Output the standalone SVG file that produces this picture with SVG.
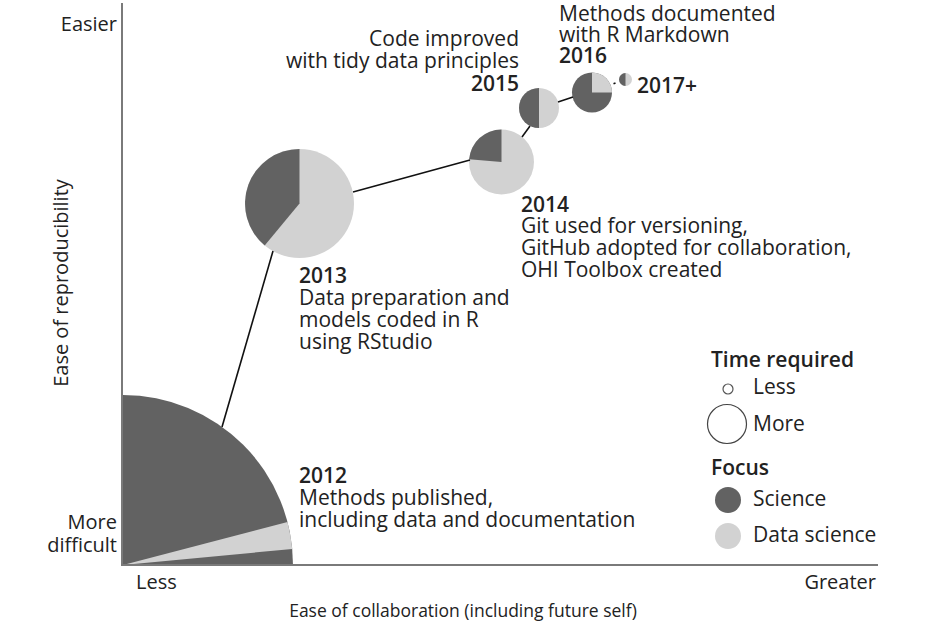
<svg xmlns="http://www.w3.org/2000/svg" width="926" height="627" viewBox="0 0 926 627">
<style>
text{font-family:"Open Sans","Liberation Sans",sans-serif;font-size:21px;fill:#222;}
.ax{font-size:20px;}
.xt{font-size:17.5px;}
.yr{font-weight:600;}
.r{text-anchor:end;}
.m{text-anchor:middle;}
.dk{fill:#626262;}
.lt{fill:#d2d2d2;}
.conn line{stroke:#111;stroke-width:1.6;}
.axis{stroke:#7a7a7a;stroke-width:2;fill:none;}
</style>
<rect width="926" height="627" fill="#fff"/>
<g id="pie2012">
<path class="dk" d="M123,565 L123,395 A170,170 0 0 1 293,565 Z"/>
<path class="lt" d="M123,565 L292.2,549 A170,170 0 0 0 287.5,522 Z"/>
</g>
<g id="pie2013">
<circle class="lt" cx="299.5" cy="203.5" r="54.5"/>
<path class="dk" d="M299.5,203.5 L299.5,149 A54.5,54.5 0 0 0 264.7,245.4 Z"/>
</g>
<g id="pie2014">
<circle class="lt" cx="501.5" cy="162" r="32.5"/>
<path class="dk" d="M501.5,162 L501.5,129.5 A32.5,32.5 0 0 0 469.1,159.2 Z"/>
</g>
<g id="pie2015">
<circle class="lt" cx="539" cy="108" r="20"/>
<path class="dk" d="M539,88 A20,20 0 0 0 539,128 Z"/>
</g>
<g id="pie2016">
<circle class="dk" cx="592" cy="92.5" r="20"/>
<path class="lt" d="M592,92.5 L592,72.5 A20,20 0 0 1 612,92.5 Z"/>
</g>
<g id="pie2017">
<circle class="lt" cx="625.5" cy="79.5" r="6.5"/>
<path class="dk" d="M625.5,73 A6.5,6.5 0 0 0 625.5,86 Z"/>
</g>
<g class="conn" id="connectors">
<line x1="222" y1="427" x2="273" y2="251"/>
<line x1="353" y1="192" x2="470" y2="160"/>
<line x1="522" y1="137" x2="530" y2="126"/>
<line x1="558" y1="102" x2="573" y2="97"/>
<line x1="613.5" y1="83.8" x2="615.5" y2="83"/>
</g>
<g id="axes">
<path class="axis" d="M122,3 L122,565 L878,565"/>
<text class="r ax" x="117" y="31">Easier</text>
<text class="r ax" x="117" y="529">More</text>
<text class="r ax" x="117" y="552">difficult</text>
<text class="ax" x="136" y="589">Less</text>
<text class="r ax" x="876" y="589">Greater</text>
<text class="m xt" x="463" y="617">Ease of collaboration (including future self)</text>
<text class="m ax" transform="translate(68,283) rotate(-90)">Ease of reproducibility</text>
</g>
<g id="label2012">
<text class="yr" x="299" y="483">2012</text>
<text x="299" y="505">Methods published,</text>
<text x="299" y="527">including data and documentation</text>
</g>
<g id="label2013">
<text class="yr" x="299" y="283">2013</text>
<text x="299" y="305">Data preparation and</text>
<text x="299" y="327">models coded in R</text>
<text x="299" y="349">using RStudio</text>
</g>
<g id="label2014">
<text class="yr" x="521" y="212">2014</text>
<text x="521" y="233">Git used for versioning,</text>
<text x="521" y="255">GitHub adopted for collaboration,</text>
<text x="521" y="277">OHI Toolbox created</text>
</g>
<g id="label2015">
<text class="r" x="519" y="46">Code improved</text>
<text class="r" x="519" y="68">with tidy data principles</text>
<text class="r yr" x="519" y="91">2015</text>
</g>
<g id="label2016">
<text x="559" y="21">Methods documented</text>
<text x="559" y="42">with R Markdown</text>
<text class="yr" x="559" y="63">2016</text>
</g>
<g id="label2017">
<text class="yr" x="637" y="93">2017+</text>
</g>
<g id="legend">
<text x="711" y="367" class="yr">Time required</text>
<circle cx="728" cy="389" r="5" fill="#fff" stroke="#555" stroke-width="1.2"/>
<text x="753" y="394">Less</text>
<circle cx="727" cy="424" r="19.5" fill="#fff" stroke="#444" stroke-width="1.2"/>
<text x="753" y="431">More</text>
<text x="711" y="475" class="yr">Focus</text>
<circle class="dk" cx="728" cy="500" r="13"/>
<text x="753" y="506">Science</text>
<circle class="lt" cx="728" cy="536" r="13"/>
<text x="753" y="542">Data science</text>
</g>
</svg>
